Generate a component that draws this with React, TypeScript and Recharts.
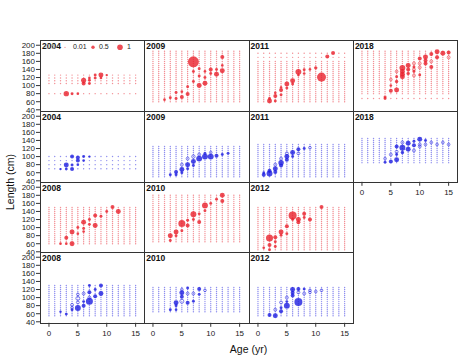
import { ScatterChart, Scatter, XAxis, YAxis, ZAxis } from "recharts";

// age classes and axis ticks
const AGES = [0, 1, 2, 3, 4, 5, 6, 7, 8, 9, 10, 11, 12, 13, 14, 15];
const AGE_TICKS = [0, 5, 10, 15];
const LENGTH_TICKS = [40, 60, 80, 100, 120, 140, 160, 180, 200];

// length bins observed in each panel (near-zero residual cells)
const bins2004F = [80, 105, 112, 119, 126];
const bins2009F = [60, 65, 70, 75, 80, 85, 90, 95, 100, 105, 110, 115, 120, 125, 130, 135, 140, 145, 150, 155, 160, 165, 170, 175, 180, 185];
const bins2011F = [60, 65, 70, 75, 80, 85, 90, 95, 100, 105, 110, 115, 120, 125, 130, 135, 140, 145, 150, 155, 160, 170, 180];
const bins2018F = [68, 80, 85, 90, 95, 100, 105, 110, 115, 120, 125, 130, 135, 140, 145, 150, 155, 160, 165, 170, 175, 180, 185];
const bins2004M = [70, 80, 90, 100];
const bins2009M = [50, 55, 60, 65, 70, 75, 80, 85, 90, 95, 100, 105, 110, 115, 120, 125];
const bins2011M = [50, 55, 60, 65, 70, 75, 80, 85, 90, 95, 100, 105, 110, 115, 120, 125, 130];
const bins2018M = [85, 90, 95, 100, 105, 110, 115, 120, 125, 130, 135, 140, 145];
const bins2008F = [60, 65, 70, 75, 80, 85, 90, 95, 100, 105, 110, 115, 120, 125, 130, 135, 140, 145, 150];
const bins2010F = [65, 70, 75, 80, 85, 90, 95, 100, 105, 110, 115, 120, 125, 130, 135, 140, 145, 150, 155, 160, 165, 170, 175, 180];
const bins2012F = [45, 50, 55, 60, 65, 70, 75, 80, 85, 90, 95, 100, 105, 110, 115, 120, 125, 130, 135, 140, 145, 150];
const bins2008M = [55, 60, 65, 70, 75, 80, 85, 90, 95, 100, 105, 110, 115, 120, 125, 130];
const bins2010M = [65, 70, 75, 80, 85, 90, 95, 100, 105, 110, 115, 120, 125];
const bins2012M = [55, 60, 65, 70, 75, 80, 85, 90, 95, 100, 105, 110, 115, 120, 125];

const GRID_RESID = 0.07;

// [age, length, |residual|]
type Obs = [number, number, number];

const f2004: Obs[] = [[3, 80, 1.0], [4, 80, 0.3], [5, 80, 0.25], [6, 113, 0.9], [6, 105, 0.55], [7, 113, 0.3], [7, 105, 0.3], [7, 119, 0.25], [8, 119, 0.3], [8, 126, 0.3], [9, 126, 0.85], [9, 119, 0.25], [10, 126, 0.2]];
const f2009: Obs[] = [[7, 159, 4.1], [12, 171, 0.55], [12, 137, 0.85], [11, 128, 0.85], [10, 140, 0.55], [9, 106, 0.85], [8, 100, 0.85], [7, 110, 0.3], [6, 79, 0.55], [5, 72, 0.55], [4, 83, 0.3], [4, 68, 0.3], [3, 70, 0.3], [2, 65, 0.25], [8, 142, 0.3], [8, 124, 0.3], [7, 135, 0.3], [9, 135, 0.25], [10, 130, 0.3], [6, 97, 0.3], [11, 140, 0.3], [12, 150, 0.25], [5, 85, 0.25], [9, 120, 0.3]];
const f2011: Obs[] = [[13, 181, 0.55], [12, 172, 0.55], [11, 121, 2.8], [10, 144, 0.4], [9, 140, 0.25], [8, 139, 0.3], [7, 134, 1.2], [6, 112, 0.85], [5, 104, 0.85], [4, 89, 0.55], [3, 74, 0.55], [2, 62, 0.85], [2, 68, 0.3], [3, 62, 0.3], [4, 77, 0.3], [5, 94, 0.3], [6, 104, 0.3], [7, 126, 0.25], [8, 130, 0.25], [3, 82, 0.25], [4, 96, 0.2]];
const f2018: Obs[] = [[13, 184, 0.85], [14, 180, 0.85], [15, 182, 0.55], [12, 178, 0.55], [13, 170, 0.55], [11, 171, 0.85], [11, 162, 0.55], [11, 155, 0.55], [12, 146, 0.55], [10, 167, 0.55], [10, 126, 0.3], [9, 146, 0.3], [8, 150, 0.85], [8, 140, 0.55], [7, 144, 1.2], [7, 135, 0.85], [7, 128, 0.85], [7, 122, 0.85], [6, 122, 0.3], [6, 89, 0.85], [5, 87, 0.55], [5, 100, 0.25], [4, 72, 0.3], [4, 68, 0.3], [8, 130, 0.4], [6, 110, 0.4], [9, 135, 0.3]];
const f2018open: Obs[] = [[9, 155, 0.3], [9, 125, 0.3], [9, 140, 0.3], [10, 145, 0.3], [10, 155, 0.3], [15, 170, 0.3], [12, 160, 0.3], [6, 135, 0.25], [5, 115, 0.25]];

const m2004: Obs[] = [[4, 100, 0.55], [5, 98, 0.55], [5, 90, 0.55], [6, 100, 0.3], [7, 100, 0.2], [3, 79, 0.85], [4, 69, 0.55], [4, 79, 0.3], [3, 69, 0.3], [2, 69, 0.2], [6, 90, 0.25], [5, 80, 0.25]];
const m2009: Obs[] = [[3, 55, 0.3], [4, 62, 0.55], [5, 68, 0.85], [6, 80, 0.85], [7, 88, 0.85], [8, 95, 1.2], [9, 100, 1.2], [10, 100, 1.2], [11, 102, 0.55], [12, 105, 0.3], [6, 70, 0.3], [7, 78, 0.3], [5, 60, 0.3], [4, 55, 0.3], [13, 108, 0.3], [9, 108, 0.3]];
const m2009open: Obs[] = [[6, 95, 0.3], [7, 100, 0.4], [8, 105, 0.3], [5, 80, 0.3], [10, 110, 0.25]];
const m2011: Obs[] = [[1, 55, 0.55], [2, 58, 1.2], [2, 65, 0.55], [3, 70, 0.85], [3, 62, 0.55], [4, 85, 1.0], [4, 78, 0.55], [5, 100, 0.85], [5, 92, 0.55], [6, 110, 0.85], [7, 118, 0.55], [8, 120, 0.3], [1, 60, 0.25], [6, 100, 0.3]];
const m2011open: Obs[] = [[4, 95, 0.3], [5, 108, 0.3], [3, 80, 0.3], [7, 108, 0.3], [9, 122, 0.25]];
const m2018: Obs[] = [[10, 143, 0.85], [9, 128, 0.55], [8, 133, 0.85], [8, 118, 0.85], [7, 122, 1.2], [6, 125, 0.55], [6, 92, 0.85], [5, 88, 0.55], [4, 86, 0.3], [7, 110, 0.4], [6, 105, 0.3], [9, 138, 0.3], [11, 140, 0.3]];
const m2018open: Obs[] = [[5, 105, 0.3], [6, 112, 0.3], [10, 130, 0.3], [10, 125, 0.3], [11, 130, 0.25], [12, 135, 0.25], [13, 130, 0.25], [14, 135, 0.25], [15, 130, 0.25], [9, 115, 0.3], [4, 95, 0.25], [7, 135, 0.3]];

const f2008: Obs[] = [[11, 151, 0.55], [12, 140, 0.85], [8, 130, 0.55], [8, 105, 0.85], [7, 108, 0.3], [6, 113, 0.85], [6, 98, 0.3], [6, 90, 0.25], [4, 89, 0.85], [3, 75, 0.55], [4, 60, 0.85], [2, 60, 0.25], [10, 140, 0.3], [9, 128, 0.3], [7, 120, 0.3], [5, 100, 0.3], [3, 60, 0.25], [5, 85, 0.25]];
const f2010: Obs[] = [[12, 180, 0.85], [12, 166, 0.55], [9, 155, 1.2], [9, 142, 0.3], [8, 134, 0.3], [8, 114, 0.55], [7, 133, 1.2], [6, 105, 0.55], [5, 110, 1.7], [4, 89, 0.85], [3, 80, 0.85], [3, 68, 0.3], [4, 80, 0.3], [5, 92, 0.3], [6, 118, 0.3], [10, 160, 0.3], [11, 170, 0.3], [7, 120, 0.3]];
const f2012: Obs[] = [[11, 151, 0.55], [8, 134, 0.55], [9, 120, 0.55], [6, 130, 2.2], [7, 120, 0.85], [7, 113, 0.55], [5, 103, 0.55], [4, 89, 0.85], [4, 81, 0.3], [3, 76, 0.55], [2, 74, 1.7], [2, 57, 0.55], [2, 45, 0.3], [3, 53, 0.3], [5, 85, 0.3], [1, 50, 0.25], [8, 125, 0.3], [6, 120, 0.3], [3, 65, 0.3]];

const m2008: Obs[] = [[9, 130, 0.55], [9, 110, 0.85], [8, 103, 0.55], [7, 113, 0.55], [7, 91, 1.7], [6, 80, 0.55], [5, 74, 1.2], [3, 59, 0.3], [2, 65, 0.2], [7, 130, 0.3], [8, 120, 0.3], [6, 90, 0.3], [4, 70, 0.3]];
const m2008open: Obs[] = [[5, 98, 0.55], [4, 82, 0.3], [6, 110, 0.3], [5, 88, 0.3], [4, 75, 0.25], [7, 100, 0.3], [5, 108, 0.25]];
const m2010: Obs[] = [[8, 121, 0.55], [6, 124, 0.3], [6, 87, 0.55], [5, 112, 0.85], [7, 91, 0.3], [4, 87, 0.85], [3, 70, 0.3], [4, 70, 0.25], [8, 108, 0.3], [5, 102, 0.55], [4, 80, 0.3]];
const m2010open: Obs[] = [[5, 91, 0.55], [6, 110, 0.3], [7, 110, 0.3], [9, 118, 0.25], [5, 120, 0.25]];
const m2012: Obs[] = [[7, 89, 2.2], [6, 120, 0.85], [6, 105, 0.55], [7, 121, 0.55], [5, 80, 1.2], [4, 66, 0.55], [3, 55, 0.85], [2, 57, 0.55], [8, 121, 0.3], [6, 112, 0.55], [4, 75, 0.3], [5, 90, 0.3]];
const m2012open: Obs[] = [[7, 113, 0.3], [3, 70, 0.3], [9, 113, 0.25], [9, 118, 0.25], [10, 115, 0.25], [11, 118, 0.25], [8, 110, 0.3], [4, 88, 0.3], [5, 100, 0.3]];

const RED = "#e8202c";
const BLUE = "#1e1ee0";

const LEFT = 40;
const TOP = 40;
const W = 104.3;
const H = 70.8;
const PAD = 6;
const X_DOMAIN = [-1.55, 16.5];
const Y_DOMAIN = [37.5, 213];

interface PanelDef {
  year: string;
  sex: "f" | "m";
  col: number;
  row: number;
  bins: number[];
  filled: Obs[];
  open: Obs[];
}

const panels: PanelDef[] = [
  { year: "2004", sex: "f", col: 0, row: 0, bins: bins2004F, filled: f2004, open: [] },
  { year: "2009", sex: "f", col: 1, row: 0, bins: bins2009F, filled: f2009, open: [] },
  { year: "2011", sex: "f", col: 2, row: 0, bins: bins2011F, filled: f2011, open: [] },
  { year: "2018", sex: "f", col: 3, row: 0, bins: bins2018F, filled: f2018, open: f2018open },
  { year: "2004", sex: "m", col: 0, row: 1, bins: bins2004M, filled: m2004, open: [] },
  { year: "2009", sex: "m", col: 1, row: 1, bins: bins2009M, filled: m2009, open: m2009open },
  { year: "2011", sex: "m", col: 2, row: 1, bins: bins2011M, filled: m2011, open: m2011open },
  { year: "2018", sex: "m", col: 3, row: 1, bins: bins2018M, filled: m2018, open: m2018open },
  { year: "2008", sex: "f", col: 0, row: 2, bins: bins2008F, filled: f2008, open: [] },
  { year: "2010", sex: "f", col: 1, row: 2, bins: bins2010F, filled: f2010, open: [] },
  { year: "2012", sex: "f", col: 2, row: 2, bins: bins2012F, filled: f2012, open: [] },
  { year: "2008", sex: "m", col: 0, row: 3, bins: bins2008M, filled: m2008, open: m2008open },
  { year: "2010", sex: "m", col: 1, row: 3, bins: bins2010M, filled: m2010, open: m2010open },
  { year: "2012", sex: "m", col: 2, row: 3, bins: bins2012M, filled: m2012, open: m2012open },
];

const toRows = (obs: Obs[]) => obs.map(([age, len, z]) => ({ age, len, z }));

const tickStyle = { fontSize: 8, fill: "#222" };

function Panel({ p }: { p: PanelDef }) {
  const showY = p.col === 0;
  const showX = p.row === 3 || (p.col === 3 && p.row === 1);
  const yW = showY ? LEFT : 0;
  const xH = showX ? 22 : 0;
  const color = p.sex === "f" ? RED : BLUE;
  const grid = p.bins.flatMap((len) => AGES.map((age) => ({ age, len, z: GRID_RESID })));
  const padBottom = showX ? 0 : PAD;

  return (
    <div style={{ position: "absolute", left: LEFT + p.col * W - yW, top: TOP + p.row * H - PAD }}>
      <ScatterChart
        width={W + yW}
        height={H + xH + PAD + padBottom}
        margin={{ top: PAD, right: 0, bottom: padBottom, left: 0 }}
      >
        <XAxis
          type="number"
          dataKey="age"
          domain={X_DOMAIN}
          ticks={AGE_TICKS}
          allowDataOverflow
          hide={!showX}
          height={xH}
          axisLine={false}
          tickSize={4}
          tickMargin={4}
          tick={tickStyle}
          tickLine={{ stroke: "#333" }}
        />
        <YAxis
          type="number"
          dataKey="len"
          domain={Y_DOMAIN}
          ticks={LENGTH_TICKS}
          allowDataOverflow
          interval={0}
          hide={!showY}
          width={yW}
          axisLine={false}
          tickSize={4}
          tickMargin={1}
          tick={tickStyle}
          tickLine={{ stroke: "#333" }}
        />
        <ZAxis type="number" dataKey="z" domain={[0, 4.2]} range={[0, 96]} />
        <Scatter data={grid} fill={color} fillOpacity={0.5} isAnimationActive={false} />
        <Scatter data={toRows(p.open)} fill="none" stroke={color} strokeWidth={0.7} strokeOpacity={0.8} isAnimationActive={false} />
        <Scatter data={toRows(p.filled)} fill={color} fillOpacity={0.8} isAnimationActive={false} />
      </ScatterChart>
      <div
        style={{
          position: "absolute",
          left: yW,
          top: PAD,
          width: W + 1,
          height: H + 1,
          border: "1px solid #333",
          boxSizing: "border-box",
          pointerEvents: "none",
        }}
      />
      <div
        style={{
          position: "absolute",
          left: yW + 2,
          top: PAD + 1,
          fontSize: 8.5,
          fontWeight: "bold",
          color: "#111",
          lineHeight: "10px",
        }}
      >
        {p.year}
      </div>
    </div>
  );
}

function Legend() {
  const txt = { position: "absolute" as const, top: 43, fontSize: 7, lineHeight: "8px", color: "#222" };
  return (
    <>
      <div style={{ ...txt, left: 43, color: "#aaa" }}>-0.5</div>
      <svg style={{ position: "absolute", left: 40, top: 40 }} width={100} height={14}>
        <circle cx={25} cy={7.3} r={0.6} fill={RED} fillOpacity={0.6} />
        <circle cx={53} cy={7.3} r={1.7} fill={RED} fillOpacity={0.8} />
        <circle cx={80} cy={7.3} r={2.8} fill={RED} fillOpacity={0.8} />
      </svg>
      <div style={{ ...txt, left: 73 }}>0.01</div>
      <div style={{ ...txt, left: 99 }}>0.5</div>
      <div style={{ ...txt, left: 127 }}>1</div>
    </>
  );
}

export default function App() {
  return (
    <div
      style={{
        position: "absolute",
        left: 0,
        top: 0,
        width: 474,
        height: 364,
        background: "#fff",
        fontFamily: "'Liberation Sans', Arial, sans-serif",
      }}
    >
      {panels.map((p) => (
        <Panel key={`${p.year}-${p.sex}`} p={p} />
      ))}
      <Legend />
      <div
        style={{
          position: "absolute",
          left: 10,
          top: 182,
          transform: "translate(-50%, -50%) rotate(-90deg)",
          fontSize: 10.5,
          whiteSpace: "nowrap",
          color: "#111",
        }}
      >
        Length (cm)
      </div>
      <div
        style={{
          position: "absolute",
          left: 248.5,
          top: 349,
          transform: "translate(-50%, -50%)",
          fontSize: 10.5,
          whiteSpace: "nowrap",
          color: "#111",
        }}
      >
        Age (yr)
      </div>
    </div>
  );
}
